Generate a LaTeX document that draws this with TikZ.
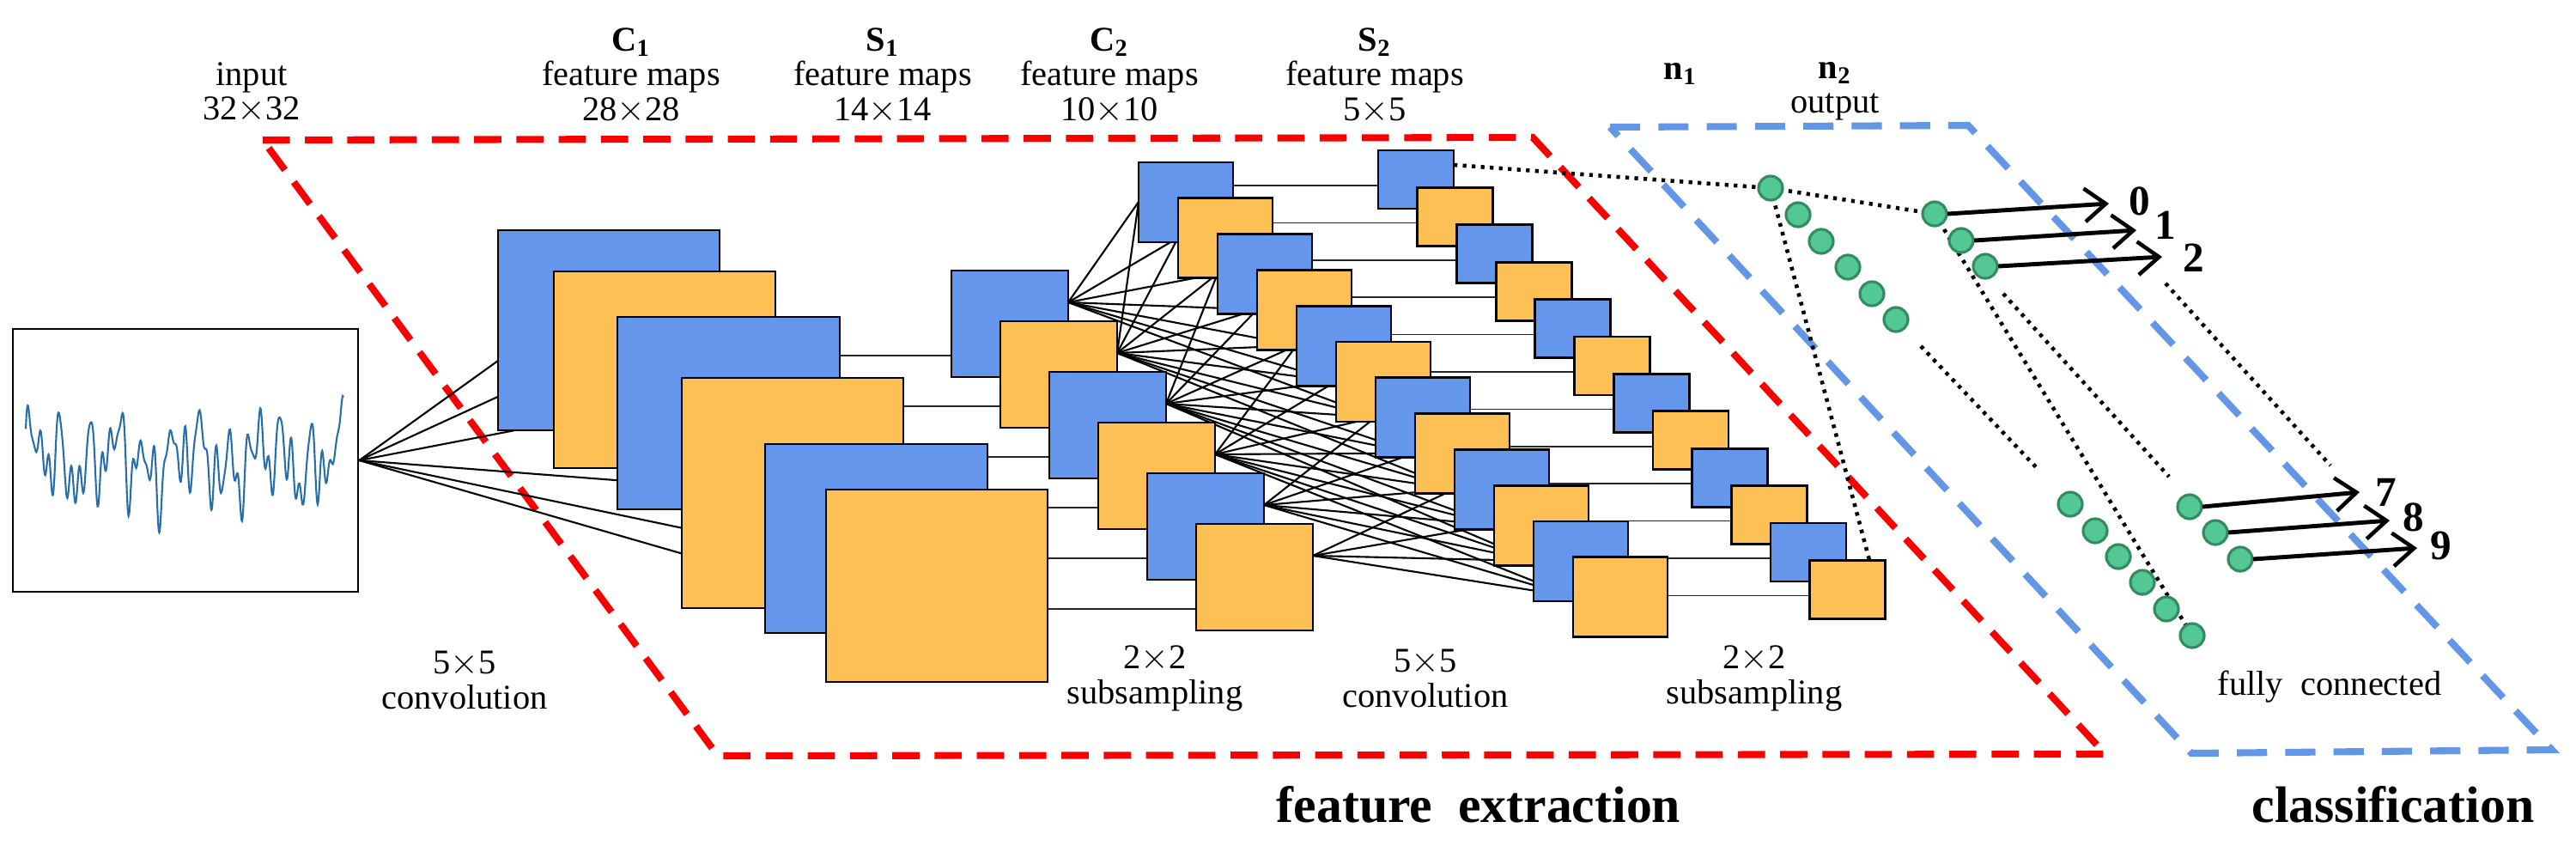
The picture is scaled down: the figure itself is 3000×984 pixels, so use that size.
\documentclass[tikz,border=0pt]{standalone}
\usepackage{fontspec}
\setmainfont{Liberation Serif}
\usetikzlibrary{arrows.meta}
\definecolor{mblue}{RGB}{100,150,236}
\definecolor{morange}{RGB}{252,192,84}
\definecolor{ngreen}{RGB}{84,200,148}
\definecolor{ngreenb}{RGB}{50,140,95}
\definecolor{sig}{RGB}{40,110,170}
\definecolor{dred}{RGB}{250,0,0}
\definecolor{dblue}{RGB}{100,150,230}
\begin{document}
\begin{tikzpicture}[x=0.01cm,y=-0.01cm,
  mapb/.style={draw=black,line width=0.8pt,fill=mblue},
  mapo/.style={draw=black,line width=0.8pt,fill=morange},
  conn/.style={draw=black!85,line width=0.5pt},
  neuron/.style={draw=ngreenb,line width=0.9pt,fill=ngreen},
  dots/.style={draw=black,line width=1.3pt,dash pattern=on 1.2pt off 1.8pt},
  outarr/.style={draw=black,line width=1.4pt,-{Straight Barb[length=7pt,width=11pt,line width=1.3pt]}},
  redbox/.style={draw=dred,line width=2.3pt,dash pattern=on 9pt off 5pt},
  bluebox/.style={draw=dblue,line width=2.3pt,dash pattern=on 10pt off 6pt},
  lbl/.style={font=\fontsize{11.5}{11.5}\selectfont,align=center,inner sep=0pt},
  big/.style={font=\fontsize{17}{18}\selectfont\bfseries,inner sep=0pt},
  digit/.style={font=\fontsize{14}{14}\selectfont\bfseries,inner sep=0pt}]
\useasboundingbox (0,0) rectangle (3000,984);

% dashed regions
\draw[redbox] (306,163) -- (1785,160) -- (2452,878) -- (836,880) -- cycle;
\draw[bluebox] (1875,148) -- (2292,146) -- (2972,873) -- (2552,877) -- cycle;

% input signal
\node[draw=black,line width=0.8pt,minimum width=402*0.01cm,minimum height=306*0.01cm,inner sep=0pt] (in) at (216,536) {};
\draw[sig,line width=0.6pt] plot[domain=0:1,samples=420,smooth]
  ({30+370*\x},{536-26*sin(\x*4100)-22*sin(\x*7300+40)-18*sin(\x*10900+10)-12*sin(\x*15100+70)-16*sin(\x*1500+30)});
\coordinate (fan) at (in.east);

% C1 maps
\foreach \i/\xa/\ya/\xb/\yb in {1/580/268/838/501,2/645/316/903/545,3/719/369/978/593,4/794/440/1052/708,5/891/517/1150/737,6/962/570/1220/794}{
  \coordinate (c1-\i-nw) at (\xa,\ya); \coordinate (c1-\i-se) at (\xb,\yb);}
\foreach \i/\y in {1/420,2/432,3/478,4/565,5/635,6/693}{
  \draw[black,line width=0.6pt] (fan) -- (c1-\i-nw |- 0,\y);}
% S1 coords
\foreach \i in {0,...,5}{
  \coordinate (s1-\i-nw) at ({1108+57*\i},{315+59*\i});
  \coordinate (s1-\i-se) at ({1108+57*\i+136},{315+59*\i+124});
  \coordinate (s1-\i-fan) at ({1108+57*\i+136},{315+59*\i+37});}
% C2 coords
\foreach \j in {0,...,11}{
  \coordinate (c2-\j-nw) at ({1326+46*\j},{189+41.8*\j});
  \coordinate (c2-\j-se) at ({1326+46*\j+110},{189+41.8*\j+93});
  \coordinate (c2-\j-in) at ({1326+46*\j},{189+41.8*\j+46});}
% S2 coords
\foreach \k in {0,...,11}{
  \coordinate (s2-\k-nw) at ({1605+45.7*\k},{175+43.4*\k});
  \coordinate (s2-\k-se) at ({1605+45.7*\k+88},{175+43.4*\k+68});}

% C1 -> S1 lines
\foreach \i [evaluate=\i as \ii using int(\i+1)] in {0,...,5}{
  \draw[conn] (c1-\ii-nw |- 0,{315+59*\i+99}) -- (s1-\i-nw |- 0,{315+59*\i+99});}
% S1 -> C2 lines
\foreach \i in {0,...,5}{
  \pgfmathtruncatemacro\ja{max(0,2*\i-2)}
  \pgfmathtruncatemacro\jb{min(11,2*\i+6)}
  \foreach \j in {\ja,...,\jb}{\draw[black,line width=0.6pt] (s1-\i-fan) -- (c2-\j-in);}}
% C2 -> S2 lines
\foreach \k in {0,...,11}{
  \draw[conn] (c2-\k-nw |- 0,{175+43.4*\k+41}) -- (s2-\k-nw |- 0,{175+43.4*\k+41});}

% maps drawn over connectors
\foreach \i in {1,...,6}{
  \pgfmathtruncatemacro\odd{mod(\i,2)}
  \ifnum\odd=1 \draw[mapb] (c1-\i-nw) rectangle (c1-\i-se); \else \draw[mapo] (c1-\i-nw) rectangle (c1-\i-se); \fi}
\foreach \i in {0,...,5}{
  \pgfmathtruncatemacro\odd{mod(\i,2)}
  \ifnum\odd=0 \draw[mapb] (s1-\i-nw) rectangle (s1-\i-se); \else \draw[mapo] (s1-\i-nw) rectangle (s1-\i-se); \fi}
\foreach \j in {0,...,11}{
  \pgfmathtruncatemacro\odd{mod(\j,2)}
  \ifnum\odd=0 \draw[mapb] (c2-\j-nw) rectangle (c2-\j-se); \else \draw[mapo] (c2-\j-nw) rectangle (c2-\j-se); \fi}
\foreach \k in {0,...,11}{
  \pgfmathtruncatemacro\odd{mod(\k,2)}
  \ifnum\odd=0 \draw[mapb] (s2-\k-nw) rectangle (s2-\k-se); \else \draw[mapo] (s2-\k-nw) rectangle (s2-\k-se); \fi}

% neurons
\foreach \x/\y [count=\n] in {2062/219,2094/250,2121/281,2152/311,2180/342,2208/372,2411/587,2440/618,2467/648,2495/678,2523/709,2553/740}{
  \coordinate (n1-\n) at (\x,\y);}
\foreach \x/\y [count=\n] in {2253/249,2284/280,2312/310,2550/590,2580/620,2609/651}{
  \coordinate (n2-\n) at (\x,\y);}
\coordinate (s2top) at (1693,192);
\coordinate (s2bot) at (2177,652);
\draw[dots] (s2top) -- (n1-1);
\draw[dots] (n1-1) -- (s2bot);
\draw[dots] (n1-1) -- (n2-1);
\draw[dots] (n2-1) -- (n1-12);
\coordinate (g1a) at (2237,403); \coordinate (g1b) at (2375,548);
\coordinate (g2a) at (2333,342); \coordinate (g2b) at (2526,555);
\coordinate (g3a) at (2522,330); \coordinate (g3b) at (2714,542);
\draw[dots] (g1a) -- (g1b);
\draw[dots] (g2a) -- (g2b);
\draw[dots] (g3a) -- (g3b);
\foreach \n in {1,...,12}{\node[neuron,circle,minimum size=28*0.01cm,inner sep=0pt] at (n1-\n) {};}
\foreach \n in {1,...,6}{\node[neuron,circle,minimum size=28*0.01cm,inner sep=0pt] at (n2-\n) {};}

% outputs
\foreach \n/\d/\ex/\ey/\lx/\ly in {1/0/2456/237/2492/234,2/1/2488/268/2522/262,3/2/2518/299/2555/300,4/7/2748/573/2779/573,5/8/2783/606/2811/602,6/9/2815/638/2843/635}{
  \coordinate (o\n) at (\ex,\ey);
  \draw[outarr] ([xshift=1.5mm]n2-\n) -- (o\n);
  \node[digit] (d\n) at (\lx,\ly) {\d};}

% labels
\node[lbl] (t-in) at (293,108) {input\\32$\times$32};
\node[lbl] (t-c1) at (735,88) {\textbf{C\textsubscript{1}}\\feature maps\\28$\times$28};
\node[lbl] (t-s1) at (1028,88) {\textbf{S\textsubscript{1}}\\feature maps\\14$\times$14};
\node[lbl] (t-c2) at (1292,88) {\textbf{C\textsubscript{2}}\\feature maps\\10$\times$10};
\node[lbl] (t-s2) at (1601,88) {\textbf{S\textsubscript{2}}\\feature maps\\5$\times$5};
\node[lbl] (t-n1) at (1957,86) {\textbf{n\textsubscript{1}}};
\node[lbl] (t-n2) at (2137,106) {\textbf{n\textsubscript{2}}\\output};
\node[lbl] (b1) at (541,792) {5$\times$5\\convolution};
\node[lbl] (b2) at (1345,790) {2$\times$2\\subsampling};
\node[lbl] (b3) at (1660,790) {5$\times$5\\convolution};
\node[lbl] (b4) at (2043,790) {2$\times$2\\subsampling};
\node[lbl] (b5) at (2713,800) {fully\ \ connected};
\node[big] (fe) at (1722,937) {feature\ \ extraction};
\node[big] (cl) at (2787,937) {classification};
\end{tikzpicture}
\end{document}
